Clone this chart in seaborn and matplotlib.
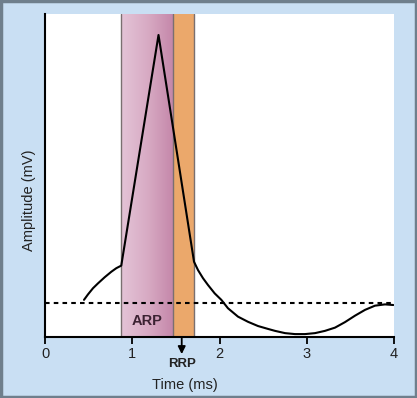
import numpy as np
import pandas as pd
import seaborn as sns
import matplotlib.pyplot as plt
from matplotlib.colors import LinearSegmentedColormap
from matplotlib.patches import Rectangle

# ---- data ----
time_ms = [0.447, 0.493, 0.550, 0.607, 0.684, 0.760, 0.817, 0.874,
           1.301,
           1.708, 1.754, 1.811, 1.868, 1.945, 2.021, 2.097, 2.212, 2.327, 2.441,
           2.556, 2.636, 2.751, 2.865, 2.980, 3.095, 3.209, 3.324, 3.438, 3.553,
           3.668, 3.782, 3.897, 3.992]
amplitude = [11.5, 13.2, 15.1, 16.6, 18.5, 20.2, 21.3, 22.1,
             93.5,
             23.3, 20.7, 18.2, 16.1, 13.5, 11.5, 8.9, 6.3, 4.7, 3.4,
             2.5, 1.9, 1.2, 0.9, 0.9, 1.2, 1.9, 2.9, 4.6, 6.6,
             8.4, 9.7, 10.1, 9.9]
threshold = 10.5
arp_range = [0.868, 1.467]
rrp_range = [1.467, 1.704]
rrp_arrow_x = 1.567
x_ticks = [0, 1, 2, 3, 4]
x_tick_labels = ["0", "1", "2", "3", "4"]

df = pd.DataFrame({"Time (ms)": time_ms, "Amplitude (mV)": amplitude})

sns.set_theme(style="white")
plt.rcParams['font.family'] = ['Liberation Sans', 'DejaVu Sans']

W, H = 417, 398
fig = plt.figure(figsize=(W / 100, H / 100), dpi=100, facecolor="#c9dff3")
ax = fig.add_axes([45 / W, 1 - 337 / H, (394 - 45) / W, (337 - 14) / H])
ax.set_facecolor("white")

# outer border
fig.patches.append(Rectangle((0.002, 0.002), 0.996, 0.996, transform=fig.transFigure,
                             fill=False, edgecolor="#6f7f8c", linewidth=2.5, zorder=10))

# ARP gradient
cmap = LinearSegmentedColormap.from_list("arp", ["#e4c4d7", "#d8abc4", "#c486a9"])
grad = np.linspace(0, 1, 256).reshape(1, -1)
ax.imshow(grad, extent=[arp_range[0], arp_range[1], 0, 100], aspect="auto",
          cmap=cmap, zorder=1, interpolation="bicubic")
ax.axvspan(rrp_range[0], rrp_range[1], color="#eba86b", zorder=1, lw=0)
for xv in [arp_range[0], rrp_range[0], rrp_range[1]]:
    ax.axvline(xv, color="#7a6f70", lw=1.0, zorder=2)

# threshold
ax.axhline(threshold, color="black", lw=1.5, ls=(0, (2.2, 2.0)), zorder=3)

# curve
sns.lineplot(data=df, x="Time (ms)", y="Amplitude (mV)", ax=ax, color="black",
             lw=1.5, zorder=4, sort=False)

ax.set_xlim(0, 4)
ax.set_ylim(0, 100)
ax.set_xticks(x_ticks)
ax.set_xticklabels(x_tick_labels)
ax.set_yticks([])
for s in ["top", "right"]:
    ax.spines[s].set_visible(False)
for s in ["left", "bottom"]:
    ax.spines[s].set_color("black")
    ax.spines[s].set_linewidth(1.5)
ax.tick_params(axis="x", bottom=True, direction="out", length=5, width=1.3,
               color="black", labelsize=10.5, labelcolor="#222222", pad=2)

ax.set_xlabel("")
ax.set_ylabel("")
fig.text(185 / W, 1 - 385 / H, "Time (ms)", ha="center", va="center",
         fontsize=10.5, color="#222222")
fig.text(29 / W, 1 - 200 / H, "Amplitude (mV)", ha="center", va="center",
         rotation=90, fontsize=10.5, color="#222222")

ax.text(sum(arp_range) / 2, 5, "ARP", ha="center", va="center",
        fontsize=10.5, fontweight="bold", color="#3b2232", zorder=5)
ax.annotate("", xy=(rrp_arrow_x, -5.3), xytext=(rrp_arrow_x, 0),
            arrowprops=dict(arrowstyle="-|>", color="black", lw=1.3,
                            mutation_scale=11, shrinkA=0, shrinkB=0),
            annotation_clip=False)
ax.text(rrp_arrow_x, -8.3, "RRP", ha="center", va="center", fontsize=9.5,
        fontweight="bold", color="#222222", clip_on=False)

fig.savefig("out.png", dpi=100, facecolor=fig.get_facecolor())
